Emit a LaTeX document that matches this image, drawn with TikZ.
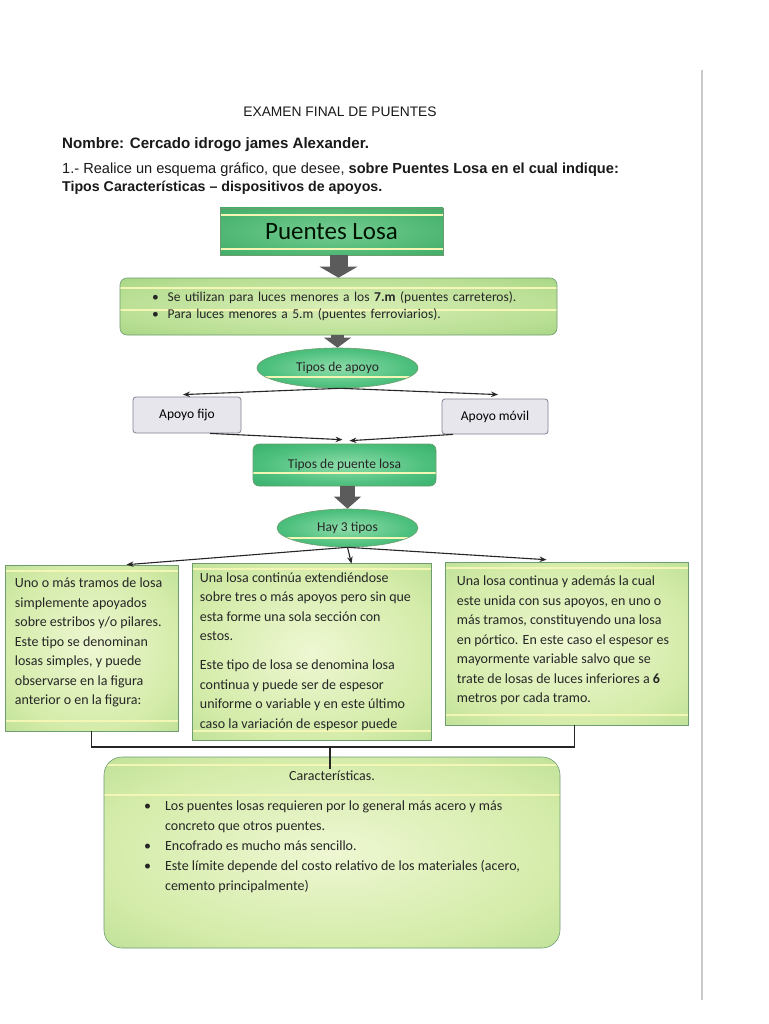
\documentclass[tikz,border=0pt]{standalone}
\usepackage{fontspec}
\setmainfont{Carlito}
\newfontfamily\arialf{Liberation Sans}
\usetikzlibrary{arrows.meta,shapes.geometric,calc}
\definecolor{lgin}{HTML}{EEF7D2}
\definecolor{lgmid}{HTML}{D3EBA8}
\definecolor{lgout}{HTML}{A3D381}
\definecolor{btin}{HTML}{D8EEB6}
\definecolor{btmid}{HTML}{B9DF94}
\definecolor{btout}{HTML}{8FC870}
\definecolor{dgin}{HTML}{74CD92}
\definecolor{dgmid}{HTML}{4DB672}
\definecolor{dgout}{HTML}{2E9A57}
\definecolor{elin}{HTML}{8EDDAA}
\definecolor{elmid}{HTML}{4EC07E}
\definecolor{elout}{HTML}{23A05B}
\definecolor{grayarrow}{HTML}{5B5B5B}
\definecolor{stripe}{HTML}{F3F6B4}
\definecolor{boxline}{HTML}{6E9E70}
\definecolor{apfill}{HTML}{E7E6ED}
\definecolor{apline}{HTML}{7C8290}
\definecolor{txt}{HTML}{262626}
\definecolor{pagerule}{HTML}{C9C9C9}
\pgfdeclareradialshading{lightglow}{\pgfpoint{0bp}{0bp}}{color(0bp)=(lgin); color(26bp)=(lgmid); color(50bp)=(lgout); color(72bp)=(lgout)}
\pgfdeclareradialshading{bulletglow}{\pgfpoint{0bp}{0bp}}{color(0bp)=(btin); color(26bp)=(btmid); color(50bp)=(btout); color(72bp)=(btout)}
\pgfdeclareradialshading{darkglow}{\pgfpoint{0bp}{0bp}}{color(0bp)=(dgin); color(26bp)=(dgmid); color(50bp)=(dgout); color(72bp)=(dgout)}
\pgfdeclareradialshading{ellglow}{\pgfpoint{0bp}{0bp}}{color(0bp)=(elin); color(22bp)=(elmid); color(50bp)=(elout); color(72bp)=(elout)}
\tikzset{
  stripes/.style 2 args={path picture={
    \draw[stripe,line width=1.1pt] ([yshift=-#1]path picture bounding box.north west) -- ([yshift=-#1]path picture bounding box.north east);
    \draw[stripe,line width=1.1pt] ([yshift=-#2]path picture bounding box.north west) -- ([yshift=-#2]path picture bounding box.north east);}},
  plbox/.style={draw=boxline, line width=0.6pt, shade, shading=darkglow, inner sep=0pt,
    minimum width=223pt, minimum height=47pt, text=black!80!green!40!black,
    font=\fontsize{25}{30}\selectfont, stripes={7pt}{41pt}},
  bulletbox/.style={draw=boxline, line width=0.6pt, shade, shading=bulletglow, rounded corners=7pt,
    inner sep=0pt, minimum width=437pt, minimum height=57pt, text width=373pt, align=left,
    font=\fontsize{13.5}{17}\selectfont, text=txt, stripes={10pt}{32pt}},
  ellbox/.style={ellipse, draw=boxline, line width=0.6pt, shade, shading=ellglow, inner sep=0pt,
    font=\fontsize{13.5}{16}\selectfont, text=txt, stripes={29pt}{29pt}},
  apbox/.style={draw=apline, line width=0.8pt, fill=apfill, rounded corners=3pt, inner sep=0pt,
    font=\fontsize{13.5}{16}\selectfont, text=black},
  tplbox/.style={draw=boxline, line width=0.6pt, shade, shading=ellglow, rounded corners=6pt, inner sep=0pt,
    minimum width=183pt, minimum height=42pt, font=\fontsize{13.5}{16}\selectfont, text=txt, stripes={29pt}{29pt}},
  textbox/.style={draw=boxline, line width=0.6pt, shade, shading=lightglow, inner sep=0pt},
  carbox/.style={draw=boxline, line width=0.6pt, shade, shading=lightglow, rounded corners=18pt, inner sep=0pt,
    minimum width=456pt, minimum height=191pt, stripes={8pt}{38pt}},
  boxtext/.style={font=\fontsize{14}{19.5}\selectfont, text=txt, align=left, inner sep=0pt},
  conn/.style={-{Stealth[length=7pt,width=5.5pt]}, line width=1.1pt, black!85},
  brk/.style={line width=1.2pt, black!85},
  hdr/.style={font=\arialf, text=black!90, inner sep=0pt}
}
\begin{document}
\begin{tikzpicture}[x=1pt,y=-1pt]
\useasboundingbox (0,0) rectangle (768,1024);
\fill[white] (0,0) rectangle (768,1024);
\draw[pagerule, line width=1.5pt] (702,70) -- (702,1000);

% header
\node[hdr, font=\arialf\fontsize{13.8}{16}\selectfont] (t0) at (340,112) {EXAMEN FINAL DE PUENTES};
\node[hdr, anchor=west, font=\arialf\bfseries\fontsize{15.1}{19}\selectfont] (t1) at (62,145) {Nombre: Cercado idrogo james Alexander.};
\node[hdr, anchor=west, font=\arialf\fontsize{14.6}{17}\selectfont] (t2) at (62,170) {1.- Realice un esquema gráfico, que desee, \textbf{sobre Puentes Losa en el cual indique:}};
\node[hdr, anchor=west, font=\arialf\fontsize{14.2}{17}\selectfont] (t3) at (62,188) {\textbf{Tipos Características – dispositivos de apoyos.}};

% top chain
\node[plbox] (pl) at (331.5,231.5) {Puentes Losa};
\node[bulletbox] (b2) at (338.5,306.5) {\begin{tabular}{@{}l@{\hspace{9pt}}l@{}}
\textbullet & Se utilizan para luces menores a los \textbf{7.m} (puentes carreteros).\\
\textbullet & Para luces menores a 5.m (puentes ferroviarios).
\end{tabular}};
\node[ellbox, minimum width=161pt, minimum height=40pt] (ta) at (337.5,368) {Tipos de apoyo};
\node[apbox, minimum width=108pt, minimum height=36pt] (af) at (187,415) {Apoyo fijo};
\node[apbox, minimum width=106pt, minimum height=35pt] (am) at (495,416.5) {Apoyo móvil};
\node[tplbox] (tpl) at (344.5,465) {Tipos de puente losa};
\node[ellbox, minimum width=141pt, minimum height=38pt] (h3) at (347.5,528) {Hay 3 tipos};

% three text boxes
\node[textbox, minimum width=173pt, minimum height=166pt, stripes={6pt}{156pt}] (lb) at (91.5,648) {};
\node[textbox, minimum width=239pt, minimum height=177pt, stripes={6pt}{168pt}] (mb) at (311.5,651.5) {};
\node[textbox, minimum width=243pt, minimum height=163pt, stripes={6pt}{153pt}] (rb) at (566.5,643.5) {};

\node[boxtext, anchor=north west] (lbt) at ([xshift=10pt,yshift=-13pt]lb.north west) {Uno o más tramos de losa\\
simplemente apoyados\\
sobre estribos y/o pilares.\\
Este tipo se denominan\\
losas simples, y puede\\
observarse en la figura\\
anterior o en la figura:};

\node[boxtext, anchor=north west] (mbt) at ([xshift=8pt,yshift=-9.5pt]mb.north west) {Una losa continúa extendiéndose\\
sobre tres o más apoyos pero sin que\\
esta forme una sola sección con\\
estos.\\[9.5pt]
Este tipo de losa se denomina losa\\
continua y puede ser de espesor\\
uniforme o variable y en este último\\
caso la variación de espesor puede};

\node[boxtext, anchor=north west] (rbt) at ([xshift=12pt,yshift=-14pt]rb.north west) {Una losa continua y además la cual\\
este unida con sus apoyos, en uno o\\
más tramos, constituyendo una losa\\
en pórtico. En este caso el espesor es\\
mayormente variable salvo que se\\
trate de losas de luces inferiores a \textbf{6}\\
metros por cada tramo.};

% characteristics
\node[carbox] (car) at (332,852.5) {};
\node[boxtext, align=center, anchor=north, font=\fontsize{14}{20}\selectfont] (cart) at ([yshift=-14pt]car.north) {Características.\\[15pt]
\begin{tabular}{@{}l@{\hspace{14pt}}l@{}}
\textbullet & Los puentes losas requieren por lo general más acero y más\\
 & concreto que otros puentes.\\
\textbullet & Encofrado es mucho más sencillo.\\
\textbullet & Este límite depende del costo relativo de los materiales (acero,\\
 & cemento principalmente)
\end{tabular}};

% gray block arrows
\draw[grayarrow, line width=18pt, -{Triangle[length=11pt,width=38pt,line width=0pt]}] (pl.south -| b2.north) -- (b2.north);
\draw[grayarrow, line width=13pt, -{Triangle[length=10pt,width=27pt,line width=0pt]}] (b2.south -| ta.north) -- (ta.north);
\draw[grayarrow, line width=15pt, -{Triangle[length=12pt,width=27pt,line width=0pt]}] (tpl.south -| h3.north) -- (h3.north);

% black connectors
\draw[conn] ([xshift=3pt]ta.south) -- ([xshift=-4pt,yshift=2pt]af.north);
\draw[conn] ([xshift=3pt]ta.south) -- ([xshift=3pt,yshift=4pt]am.north);
\draw[conn] ([xshift=23pt]af.south) -- ([xshift=-2pt,yshift=4pt]tpl.north);
\draw[conn] ([xshift=-42pt]am.south) -- ([xshift=5pt,yshift=3pt]tpl.north);
\draw[conn] (h3.south) -- ([xshift=35pt]lb.north);
\draw[conn] (h3.south) -- ([xshift=40pt,yshift=-1pt]mb.north);
\draw[conn] (h3.south) -- ([xshift=-20pt,yshift=2pt]rb.north);

% bracket into Caracteristicas
\coordinate (brL) at (lb.south |- 0,747);
\coordinate (brR) at ([xshift=8pt]rb.south |- 0,747);
\coordinate (brM) at (330,747);
\coordinate (brT) at (330,769);
\draw[brk] (lb.south) -- (brL) -- (brR) -- ([xshift=8pt]rb.south);
\draw[brk] (brM) -- (brT);
\end{tikzpicture}
\end{document}
